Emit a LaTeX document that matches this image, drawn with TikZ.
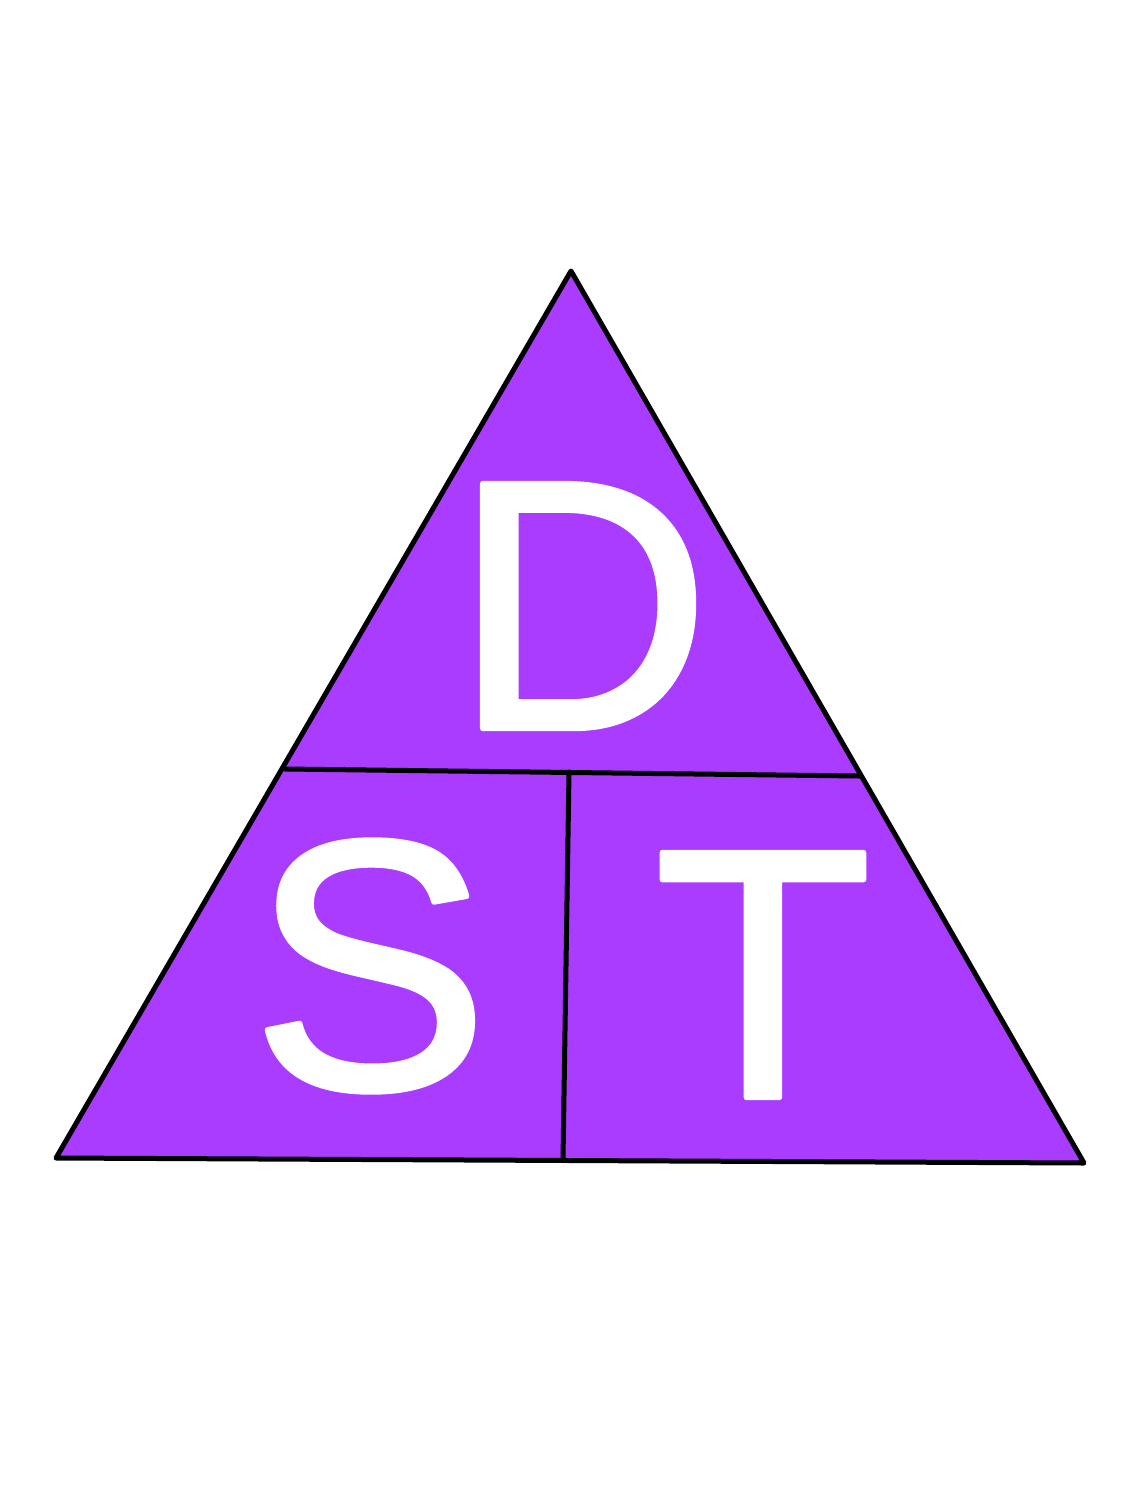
\documentclass[tikz,border=0pt]{standalone}
\usepackage{fontspec}
\setmainfont{Liberation Sans}
\newfontfamily\dstfont[FakeBold=1.5]{Liberation Sans}
\definecolor{dstpurple}{HTML}{AA3CFF}
\tikzset{every path/.style={line width=5pt, line join=round, line cap=round}}
\tikzset{letter/.style={text=white, inner sep=0pt, font=\dstfont\fontsize{356}{356}\selectfont}}

\begin{document}
\begin{tikzpicture}[x=1pt,y=-1pt]
\useasboundingbox (0,0) rectangle (1125,1500);
\coordinate (top) at (571,271);
\coordinate (bl) at (56,1158);
\coordinate (br) at (1084,1163);
\coordinate (ml) at (285,769);
\coordinate (mr) at (859,776);
\coordinate (vt) at (569,772);
\coordinate (vb) at (563,1160);
\filldraw[fill=dstpurple] (top) -- (br) -- (bl) -- cycle;
\draw (ml) -- (mr);
\draw (vt) -- (vb);
\node[letter] (d) at (582,606) {D};
\node[letter] (s) at (370,966) {S};
\node[letter] (t) at (763,975) {T};
\end{tikzpicture}
\end{document}
